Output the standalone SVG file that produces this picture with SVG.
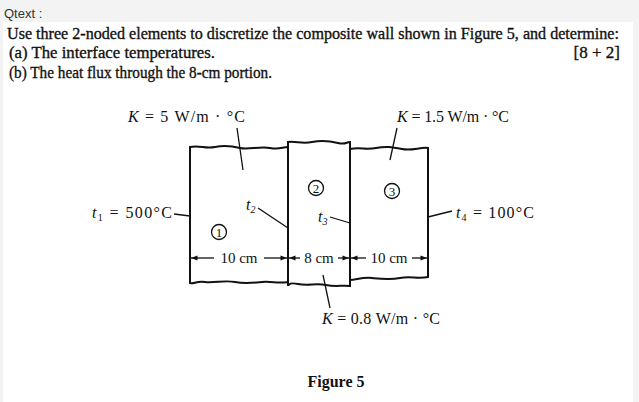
<svg xmlns="http://www.w3.org/2000/svg" width="639" height="402" viewBox="0 0 639 402">
<style>
.t{font-family:"Liberation Serif",serif;fill:#111}
.h{font-family:"Liberation Serif",serif;fill:#111;stroke:#111;stroke-width:0.35}
.s{font-family:"Liberation Sans",sans-serif;fill:#333}
.ln{stroke:#111;stroke-width:1.3;fill:none}
.w{stroke:#111;stroke-width:2;fill:#fff}
</style>
<defs><marker id="ah" viewBox="0 0 10 10" refX="10" refY="5" markerWidth="6" markerHeight="5" orient="auto-start-reverse"><path d="M0,1L10,5L0,9z" fill="#111"/></marker></defs>
<rect width="639" height="402" fill="#f3f3f3"/>
<rect x="3" y="22" width="630" height="380" fill="#fff"/>
<text class="s" x="4" y="18" font-size="13">Qtext :</text>
<text class="h" x="7" y="39" font-size="16.5" textLength="612" lengthAdjust="spacingAndGlyphs">Use three 2-noded elements to discretize the composite wall shown in Figure 5, and determine:</text>
<text class="h" x="9" y="58" font-size="17" textLength="206" lengthAdjust="spacingAndGlyphs">(a)  The interface temperatures.</text>
<text class="h" x="620" y="58" font-size="17" text-anchor="end">[8 + 2]</text>
<text class="h" x="9" y="78" font-size="17" textLength="263" lengthAdjust="spacingAndGlyphs">(b)  The heat flux through the 8-cm portion.</text>
<g id="wall1"><path class="w" d="M190,147 C200,145 205,149 215,147 S232,146 240,148 S260,146 270,148 S282,147 288,147 L288,282 C278,284 272,281 262,282 S245,284 235,282 S215,283 205,282 S195,284 190,283 Z"/></g>
<g id="wall3"><path class="w" d="M350,149 C360,147 366,150 376,148 S392,147 402,149 S420,147 428,148 L428,277 C418,279 410,276 400,278 S382,279 372,278 S356,280 350,280 Z"/></g>
<g id="wall2"><path class="w" d="M288,142 C296,141 302,144 312,142 S330,141 338,143 S346,142 350,142 L350,286 C342,285 336,287 326,285 S308,286 298,284 S290,285 288,285 Z"/></g>
<g id="labels" class="t" font-size="16">
<text x="128" y="122" textLength="117" lengthAdjust="spacing"><tspan font-style="italic">K</tspan> = 5 W/m · °C</text>
<text x="397" y="122" textLength="112" lengthAdjust="spacing"><tspan font-style="italic">K</tspan> = 1.5 W/m · °C</text>
<text x="322" y="324" textLength="118" lengthAdjust="spacing"><tspan font-style="italic">K</tspan> = 0.8 W/m · °C</text>
<text x="92" y="218" textLength="80" lengthAdjust="spacing"><tspan font-style="italic">t</tspan><tspan font-size="10" dy="3">1</tspan><tspan dy="-3"> = 500°C</tspan></text>
<text x="456" y="218" textLength="78" lengthAdjust="spacing"><tspan font-style="italic">t</tspan><tspan font-size="10" dy="3">4</tspan><tspan dy="-3"> = 100°C</tspan></text>
<text x="246" y="210" font-style="italic">t<tspan font-size="10" dy="3">2</tspan></text>
<text x="318" y="222" font-style="italic">t<tspan font-size="10" dy="3">3</tspan></text>
<text x="239" y="263" font-size="15" text-anchor="middle">10 cm</text>
<text x="319" y="263" font-size="15" text-anchor="middle">8 cm</text>
<text x="389" y="263" font-size="15" text-anchor="middle">10 cm</text>
<text x="336" y="387" font-size="16" font-weight="bold" text-anchor="middle">Figure 5</text>
</g>
<g id="nodes" class="t" font-size="13" text-anchor="middle">
<circle cx="219" cy="232" r="7.5" class="ln"/><text x="219" y="236.5">1</text>
<circle cx="316" cy="188" r="7.5" class="ln"/><text x="316" y="192.5">2</text>
<circle cx="392" cy="191" r="7.5" class="ln"/><text x="392" y="195.5">3</text>
</g>
<g id="connectors" class="ln">
<path d="M237,128 L243,170"/>
<path d="M397,128 L390,160"/>
<path d="M323,275 L330,308"/>
<path d="M174,214 L190,216"/>
<path d="M258,208 L288,228"/>
<path d="M330,217 L350,223"/>
<path d="M428,217 L452,211"/>
<path d="M214,258 L191,258" marker-end="url(#ah)"/>
<path d="M264,258 L287,258" marker-end="url(#ah)"/>
<path d="M300,258 L289,258" marker-end="url(#ah)"/>
<path d="M338,258 L349,258" marker-end="url(#ah)"/>
<path d="M366,258 L351,258" marker-end="url(#ah)"/>
<path d="M412,258 L427,258" marker-end="url(#ah)"/>
</g>
</svg>
